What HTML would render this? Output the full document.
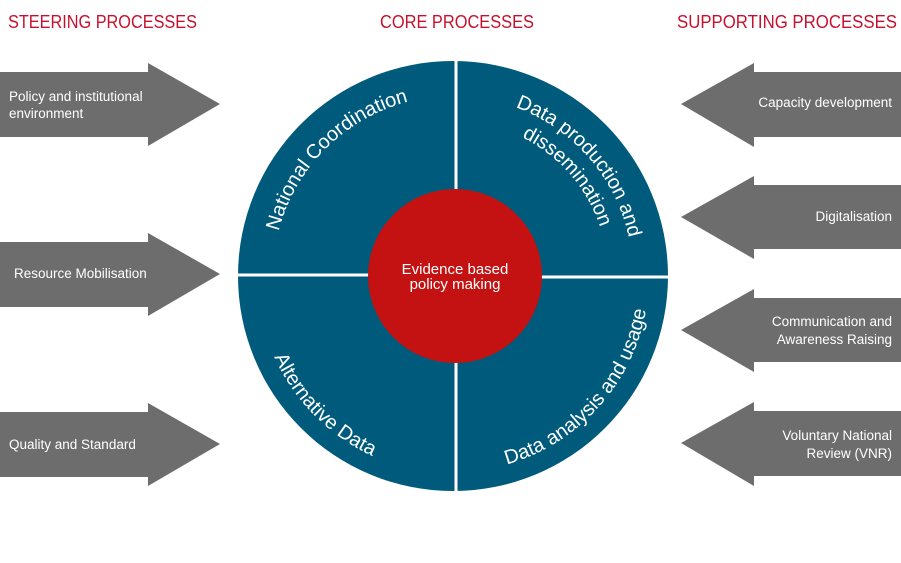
<!DOCTYPE html>
<html><head><meta charset="utf-8"><style>
html,body{margin:0;padding:0;background:#fff;}
svg{display:block;font-family:"Liberation Sans",sans-serif;}
</style></head><body>
<svg width="901" height="563" viewBox="0 0 901 563" xmlns="http://www.w3.org/2000/svg">
<g fill="#c8102e" font-size="18">
<text x="8" y="28" textLength="189" lengthAdjust="spacingAndGlyphs">STEERING PROCESSES</text>
<text x="380" y="28" textLength="154" lengthAdjust="spacingAndGlyphs">CORE PROCESSES</text>
<text x="677" y="28" textLength="220" lengthAdjust="spacingAndGlyphs">SUPPORTING PROCESSES</text>
</g>
<g fill="#6d6d6d">
<polygon points="0,72 148,72 148,63 220,104 148,146 148,137 0,137"/>
<polygon points="0,242 148,242 148,233 220,274 148,316 148,307 0,307"/>
<polygon points="0,412 148,412 148,403 220,444 148,486 148,477 0,477"/>
<polygon points="901,72 754,72 754,63 681,104 754,147 754,137 901,137"/>
<polygon points="901,185 754,185 754,176 681,217 754,259 754,249 901,249"/>
<polygon points="901,298 754,298 754,289 681,330 754,372 754,362 901,362"/>
<polygon points="901,411 754,411 754,402 681,443 754,486 754,476 901,476"/>
</g>
<g fill="#fff" font-size="13.5">
<text x="9" y="101">Policy and institutional</text>
<text x="9" y="118">environment</text>
<text x="14" y="278">Resource Mobilisation</text>
<text x="9" y="449">Quality and Standard</text>
<g text-anchor="end">
<text x="892" y="107">Capacity development</text>
<text x="892" y="221">Digitalisation</text>
<text x="892" y="326">Communication and</text>
<text x="892" y="344">Awareness Raising</text>
<text x="892" y="440">Voluntary National</text>
<text x="892" y="458">Review (VNR)</text>
</g>
</g>
<circle cx="453" cy="276" r="215" fill="#005a7b"/>
<line x1="456" y1="60" x2="456" y2="492" stroke="#fff" stroke-width="3"/>
<line x1="236" y1="275" x2="455" y2="275" stroke="#fff" stroke-width="3"/>
<line x1="455" y1="277" x2="670" y2="277" stroke="#fff" stroke-width="3"/>
<circle cx="455" cy="276" r="87" fill="#c41213"/>
<g fill="#fff" font-size="15" text-anchor="middle">
<text x="455" y="274">Evidence based</text>
<text x="455" y="289">policy making</text>
</g>
<defs>
<path id="p1" d="M 273 276 A 180 180 0 0 1 453 96"/>
<path id="p2" d="M 453 96 A 180 180 0 0 1 633 276" transform="rotate(4 453 276)"/>
<path id="p3" d="M 453 121 A 155 155 0 0 1 608 276" transform="rotate(4 453 276)"/>
<path id="p4" d="M 453 472 A 196 196 0 0 0 649 276" transform="rotate(-3 453 276)"/>
<path id="p5" d="M 257 276 A 198 198 0 0 0 453 474"/>
</defs>
<g fill="#fff" font-size="20" text-anchor="middle">
<text><textPath href="#p1" startOffset="50%">National Coordination</textPath></text>
<text><textPath href="#p2" startOffset="50%">Data production and</textPath></text>
<text><textPath href="#p3" startOffset="50%">dissemination</textPath></text>
<text><textPath href="#p4" startOffset="50%">Data analysis and usage</textPath></text>
<text><textPath href="#p5" startOffset="50%">Alternative Data</textPath></text>
</g>
</svg>
</body></html>
